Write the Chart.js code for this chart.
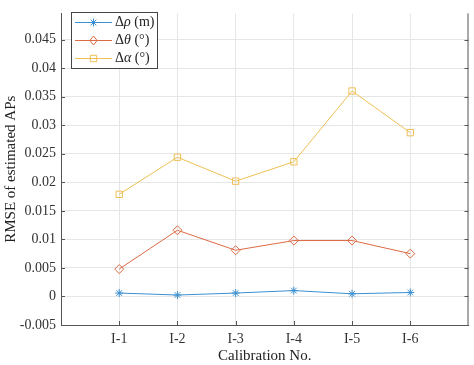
<!DOCTYPE html>
<html>
<head>
<meta charset="utf-8">
<script src="https://cdn.jsdelivr.net/npm/chart.js@4.4.0/dist/chart.umd.min.js"></script>
<style>
    html, body { margin: 0; padding: 0; background: #fff; }
    #wrap { width: 474px; height: 365px; }
</style>
</head>
<body>
<div id="wrap"><canvas id="chart" width="474" height="365"></canvas></div>
<script>
// values
const calibrations = ['I-1', 'I-2', 'I-3', 'I-4', 'I-5', 'I-6'];
const rhoValues = [0.0006, 0.00025, 0.0006, 0.00103, 0.00047, 0.0007];
const thetaValues = [0.0048, 0.0116, 0.0081, 0.0098, 0.0098, 0.0075];
const alphaValues = [0.0179, 0.0244, 0.0202, 0.0236, 0.0360, 0.0287];
const seriesNames = ['Δρ (m)', 'Δθ (°)', 'Δα (°)'];
const seriesColors = ['#3a8fd0', '#dc6a44', '#eebf55'];
const seriesMarkers = ['star', 'rectRot', 'rect'];

const serif = "'Liberation Serif', 'DejaVu Serif', serif";
const axisColor = '#555555';
const gridColor = '#e6e6e6';
const tickStep = 0.005;

const toPoints = (vals) => vals.map((v, i) => ({x: i + 1, y: v}));

function drawMarker(ctx, style, x, y, r) {
    ctx.beginPath();
    if (style === 'star') {
        const d = r * Math.SQRT1_2;
        ctx.moveTo(x - r, y); ctx.lineTo(x + r, y);
        ctx.moveTo(x, y - r); ctx.lineTo(x, y + r);
        ctx.moveTo(x - d, y - d); ctx.lineTo(x + d, y + d);
        ctx.moveTo(x - d, y + d); ctx.lineTo(x + d, y - d);
    } else if (style === 'rectRot') {
        ctx.moveTo(x, y - r); ctx.lineTo(x + r * 0.8, y);
        ctx.lineTo(x, y + r); ctx.lineTo(x - r * 0.8, y);
        ctx.closePath();
    } else {
        const s = r * Math.SQRT1_2;
        ctx.rect(x - s, y - s, 2 * s, 2 * s);
    }
    ctx.stroke();
}

// box line on the right, inward ticks, and the legend inside the plot
const frameAndLegend = {
    id: 'frameAndLegend',
    afterDraw(chart) {
        const ctx = chart.ctx;
        const a = chart.chartArea;
        const xs = chart.scales.x, ys = chart.scales.y;
        ctx.save();
        ctx.strokeStyle = axisColor;
        ctx.lineWidth = 1;
        ctx.beginPath();
        ctx.moveTo(a.right - 0.5, a.top);
        ctx.lineTo(a.right - 0.5, a.bottom);
        xs.ticks.forEach(t => {
            const px = Math.round(xs.getPixelForValue(t.value)) + 0.5;
            ctx.moveTo(px, a.bottom);
            ctx.lineTo(px, a.bottom - 4);
        });
        ys.ticks.forEach(t => {
            const py = Math.round(ys.getPixelForValue(t.value)) + 0.5;
            ctx.moveTo(a.left, py); ctx.lineTo(a.left + 4, py);
            ctx.moveTo(a.right, py); ctx.lineTo(a.right - 4, py);
        });
        ctx.stroke();

        // legend
        const bx = 71.5, by = 12.5, bw = 86, bh = 56;
        ctx.fillStyle = '#ffffff';
        ctx.fillRect(bx, by, bw, bh);
        ctx.strokeStyle = '#444444';
        ctx.strokeRect(bx, by, bw, bh);
        ctx.textBaseline = 'middle';
        seriesNames.forEach((name, i) => {
            const y = 22.5 + i * 18;
            ctx.strokeStyle = seriesColors[i];
            ctx.beginPath();
            ctx.moveTo(75, y); ctx.lineTo(112, y);
            ctx.stroke();
            drawMarker(ctx, seriesMarkers[i], 93.5, y, seriesMarkers[i] === 'star' ? 4 : 4.5);
            ctx.fillStyle = '#222222';
            let tx = 115;
            ctx.font = '14px ' + serif;
            ctx.fillText(name[0], tx, y);
            tx += ctx.measureText(name[0]).width;
            ctx.font = 'italic 14px ' + serif;
            ctx.fillText(name[1], tx, y);
            tx += ctx.measureText(name[1]).width;
            ctx.font = '14px ' + serif;
            ctx.fillText(name.slice(2), tx, y);
        });
        ctx.restore();
    }
};

const datasets = [rhoValues, thetaValues, alphaValues].map((vals, i) => ({
    label: seriesNames[i],
    data: toPoints(vals),
    borderColor: seriesColors[i],
    backgroundColor: 'transparent',
    borderWidth: 1,
    pointStyle: seriesMarkers[i],
    pointRadius: seriesMarkers[i] === 'star' ? 4 : 4.5,
    pointBorderColor: seriesColors[i],
    pointBackgroundColor: 'transparent',
    pointBorderWidth: 1,
    tension: 0
}));

new Chart(document.getElementById('chart'), {
    type: 'line',
    data: {datasets: datasets},
    plugins: [frameAndLegend],
    options: {
        responsive: false,
        animation: false,
        layout: {padding: {top: 2, right: 2, left: 0, bottom: 0}},
        plugins: {legend: {display: false}, tooltip: {enabled: false}},
        scales: {
            x: {
                type: 'linear',
                min: 0,
                max: 7,
                afterFit: (scale) => { scale.height = 40; },
                afterBuildTicks: (scale) => {
                    scale.ticks = scale.ticks.filter(t => t.value >= 1 && t.value <= calibrations.length);
                },
                grid: {color: gridColor, drawTicks: false},
                border: {color: axisColor, width: 1},
                ticks: {
                    stepSize: 1,
                    padding: 6,
                    color: '#333333',
                    font: {family: serif, size: 14},
                    callback: (v) => calibrations[v - 1] || ''
                },
                title: {
                    display: true,
                    text: 'Calibration No.',
                    color: '#222222',
                    font: {family: serif, size: 15},
                    padding: {top: 0, bottom: 0}
                }
            },
            y: {
                min: -0.005,
                max: 0.0496,
                afterFit: (scale) => { scale.width = 61; },
                afterBuildTicks: (scale) => {
                    scale.ticks = scale.ticks.filter(t => Math.abs(t.value / tickStep - Math.round(t.value / tickStep)) < 1e-6);
                },
                grid: {color: gridColor, drawTicks: false},
                border: {color: axisColor, width: 1},
                ticks: {
                    stepSize: tickStep,
                    autoSkip: false,
                    padding: 5,
                    color: '#333333',
                    font: {family: serif, size: 14},
                    callback: (v) => String(Number(v.toFixed(3)))
                },
                title: {
                    display: true,
                    text: 'RMSE of estimated APs',
                    color: '#222222',
                    font: {family: serif, size: 15},
                    padding: {top: 2, bottom: 0}
                }
            }
        }
    }
});
</script>
</body>
</html>
